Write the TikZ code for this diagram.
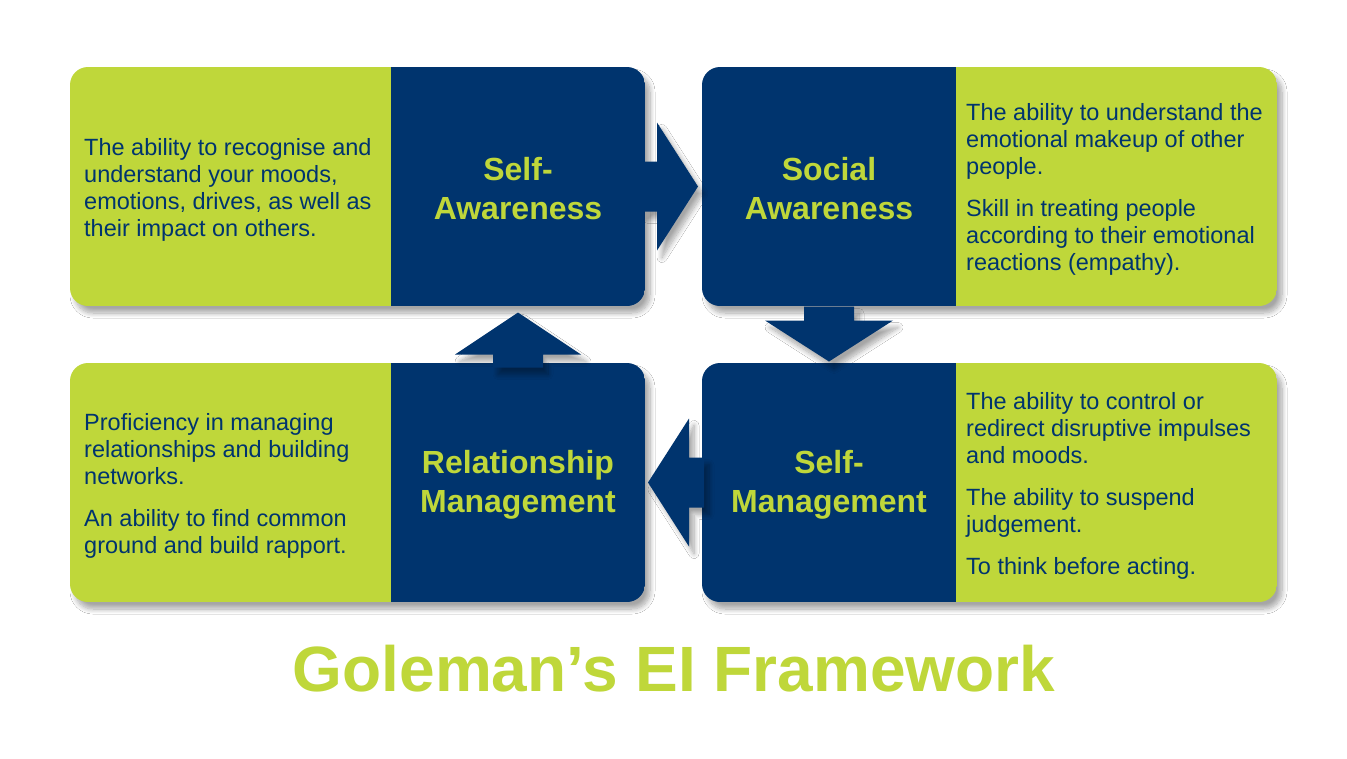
\documentclass[tikz,border=0pt]{standalone}
\usepackage{fontspec}
\setmainfont{Liberation Sans}
\usetikzlibrary{shadows.blur}
\definecolor{eilime}{RGB}{191,215,58}
\definecolor{einavy}{RGB}{0,52,110}
\tikzset{
  card/.style={rounded corners=18pt},
  cardshadow/.style={blur shadow={shadow xshift=5pt, shadow yshift=-7pt, shadow blur radius=5pt, shadow blur steps=10, shadow opacity=35}},
  head/.style={minimum width=254pt, minimum height=239pt, inner sep=0pt, outer sep=0pt, align=center, text=eilime, font=\fontsize{32}{39}\selectfont\bfseries},
  info/.style={anchor=west, align=left, inner sep=0pt, text=einavy, font=\fontsize{23.5}{27}\selectfont},
  flow/.style={fill=einavy, cardshadow},
  title/.style={text=eilime, font=\fontsize{64}{70}\selectfont\bfseries}
}
\begin{document}
\begin{tikzpicture}[x=1pt, y=-1pt]
  \useasboundingbox[fill=white] (0,0) rectangle (1347,758);
  % cards: green text panel + navy heading panel
  \foreach \xa/\xm/\ya/\cl/\cr in {70/391/67/eilime/einavy, 702/956/67/einavy/eilime, 70/391/363/eilime/einavy, 702/956/363/einavy/eilime} {
    \path[card, cardshadow] (\xa,\ya) rectangle ++(575,239);
    \begin{scope}
      \clip[card] (\xa,\ya) rectangle ++(575,239);
      \fill[\cl] (\xa,\ya) rectangle (\xm,\ya+239);
      \fill[\cr] (\xm,\ya) rectangle (\xa+575,\ya+239);
    \end{scope}
  }
  % headings
  \node[head] (sa) at (518,189) {Self-\\Awareness};
  \node[head] (soc) at (829,189) {Social\\Awareness};
  \node[head] (rel) at (518,485) {Relationship\\Management};
  \node[head] (smg) at (829,485) {Self-\\Management};
  % descriptions
  \node[info] (satext) at (84,189.5) {The ability to recognise and\\understand your moods,\\emotions, drives, as well as\\their impact on others.};
  \node[info] (soctext) at (966,189.5) {The ability to understand the\\emotional makeup of other\\people.\\[15pt]Skill in treating people\\according to their emotional\\reactions (empathy).};
  \node[info] (reltext) at (84,485.5) {Proficiency in managing\\relationships and building\\networks.\\[15pt]An ability to find common\\ground and build rapport.};
  \node[info] (smgtext) at (966,485.5) {The ability to control or\\redirect disruptive impulses\\and moods.\\[15pt]The ability to suspend\\judgement.\\[15pt]To think before acting.};
  % block arrows between the cards
  \fill[flow] (sa.east) ++(-2,-27.5) -- ++(14,0) -- ++(0,-39) -- ++(41,64) -- ++(-41,64) -- ++(0,-39) -- ++(-14,0) -- cycle;
  \fill[flow] (soc.south) ++(-25,-2) -- ++(0,14) -- ++(-39,0) -- ++(64,41) -- ++(64,-41) -- ++(-39,0) -- ++(0,-14) -- cycle;
  \fill[flow] (smg.west) ++(2,-27.5) -- ++(-15,0) -- ++(0,-39) -- ++(-41,64) -- ++(41,64) -- ++(0,-39) -- ++(15,0) -- cycle;
  \fill[flow] (rel.north) ++(-25,2) -- ++(0,-13) -- ++(-38,0) -- ++(63,-42) -- ++(63,42) -- ++(-38,0) -- ++(0,13) -- cycle;
  \node[title] (ttl) at (674,669) {Goleman’s EI Framework};
\end{tikzpicture}
\end{document}
